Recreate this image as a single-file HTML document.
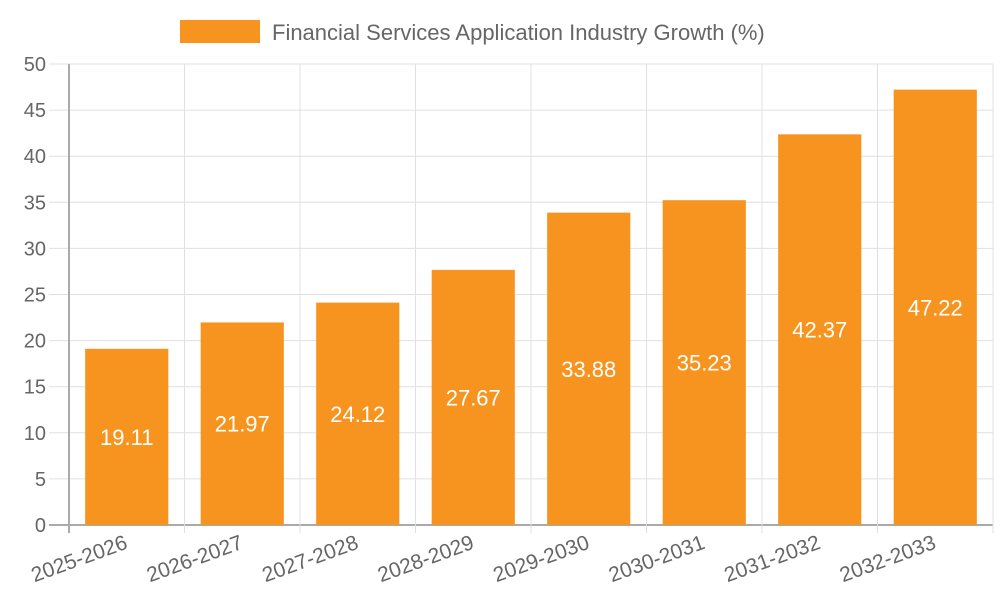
<!DOCTYPE html>
<html><head><meta charset="utf-8"><style>
body{margin:0;background:#fff;font-family:"Liberation Sans",sans-serif}
</style></head><body>
<svg id="chart" width="1000" height="600" xmlns="http://www.w3.org/2000/svg" font-family="Liberation Sans, sans-serif">
<rect x="180" y="20" width="80" height="23" fill="#F7941F"/>
<text x="272" y="40" font-size="22" fill="#666">Financial Services Application Industry Growth (%)</text>
<g id="grid"></g><g id="bars"></g><g id="labels"></g>
</svg>
<script>
const categories=["2025-2026","2026-2027","2027-2028","2028-2029","2029-2030","2030-2031","2031-2032","2032-2033"];
const values=[19.11,21.97,24.12,27.67,33.88,35.23,42.37,47.22];
const yTicks=[0,5,10,15,20,25,30,35,40,45,50];
const NS="http://www.w3.org/2000/svg";
const X0=69,X1=993,Y0=525,Y1=64,YMAX=50;
const bw=(X1-X0)/categories.length;
const y=v=>Y0-(v/YMAX)*(Y0-Y1);
const xc=i=>X0+bw*(i+0.5);
function mk(t,a,p){const e=document.createElementNS(NS,t);for(const k in a)e.setAttribute(k,a[k]);p.appendChild(e);return e;}
const grid=document.getElementById('grid'),bars=document.getElementById('bars'),labels=document.getElementById('labels');
yTicks.forEach(t=>{
  const l=mk('line',{x1:49,x2:X1,y1:y(t),y2:y(t),stroke:t===0?'#aaa':'#e0e0e0','stroke-width':t===0?2:1},grid);
  
  
  const tx=mk('text',{x:46,y:y(t)+7,'text-anchor':'end','font-size':20,fill:'#666'},grid);
  tx.textContent=t;
  
  
});
for(let i=0;i<=categories.length;i++){
  const x=X0+bw*i;
  const l=mk('line',{x1:x,x2:x,y1:Y1,y2:Y0+8,stroke:i===0?'#aaa':'#e0e0e0','stroke-width':i===0?2:1},grid);
  
  
}
categories.forEach((c,i)=>{
  const w=bw*0.72;
  const r=mk('rect',{x:xc(i)-w/2,y:y(values[i]),width:w,height:Y0-y(values[i]),fill:'#F7941F'},bars);
  
  
  const v=mk('text',{x:xc(i),y:(y(values[i])+Y0)/2+8,'text-anchor':'middle','font-size':22,fill:'#fff'},labels);
  v.textContent=values[i].toFixed(2);
  
  
  const t=mk('text',{x:xc(i)+2,y:548,'text-anchor':'end','font-size':21,fill:'#666',transform:`rotate(-20 ${xc(i)+2} 548)`},labels);
  t.textContent=c;
  
  
});
</script>
</body></html>
